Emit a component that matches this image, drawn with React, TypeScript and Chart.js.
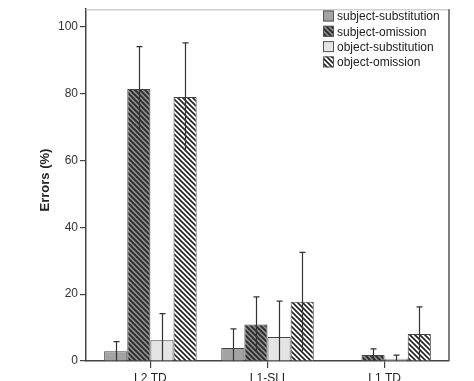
import React, { useEffect, useRef } from "react";
import { Chart, registerables } from "chart.js";

Chart.register(...registerables);

const categories = ["L2 TD", "L1-SLI", "L1 TD"];
const seriesNames = ["subject-substitution", "subject-omission", "object-substitution", "object-omission"];
const subjSub = [2.9, 3.9, 0];
const subjOm = [81.4, 10.9, 1.8];
const objSub = [6.2, 7.2, 0.7];
const objOm = [79.0, 17.7, 8.1];
const subjSubUpper = [5.8, 9.6, 0];
const subjOmUpper = [94.1, 19.2, 3.6];
const objSubUpper = [14.2, 17.9, 1.75];
const objOmUpper = [95.2, 32.5, 16.2];
const yTicks = [0, 20, 40, 60, 80, 100];

const FONT = "'Liberation Sans', Arial, sans-serif";

function hatch(bg: string, fg: string, size: number, lw: number) {
  const c = document.createElement("canvas");
  c.width = size;
  c.height = size;
  const g = c.getContext("2d")!;
  g.fillStyle = bg;
  g.fillRect(0, 0, size, size);
  g.strokeStyle = fg;
  g.lineWidth = lw;
  g.beginPath();
  for (let k = -1; k <= 1; k++) {
    g.moveTo(-1, k * size - 1);
    g.lineTo(size + 1, size + k * size + 1);
  }
  g.stroke();
  return g.createPattern(c, "repeat")!;
}

export default function App() {
  const ref = useRef<HTMLCanvasElement>(null);
  useEffect(() => {
    const canvas = ref.current!;
    const pSubjOm = hatch("#8c8c8c", "#2a2a2a", 5, 1.8);
    const pObjOm = hatch("#ffffff", "#222222", 5, 1.6);
    const fills: any[] = ["#a3a3a3", pSubjOm, "#e4e4e4", pObjOm];
    const values = [subjSub, subjOm, objSub, objOm];
    const uppers = [subjSubUpper, subjOmUpper, objSubUpper, objOmUpper];

    const errorBars = {
      id: "errorBars",
      afterDatasetsDraw(chart: any) {
        const ctx = chart.ctx;
        const ys = chart.scales.y;
        ctx.save();
        ctx.strokeStyle = "#333";
        ctx.lineWidth = 1.2;
        chart.data.datasets.forEach((ds: any, di: number) => {
          const meta = chart.getDatasetMeta(di);
          meta.data.forEach((bar: any, i: number) => {
            const m = values[di][i];
            const up = uppers[di][i];
            if (up <= m) return;
            const lo = Math.max(0, m - (up - m));
            const x = Math.round(bar.x) + 0.5;
            const yu = ys.getPixelForValue(up);
            const yl = ys.getPixelForValue(lo);
            ctx.beginPath();
            ctx.moveTo(x, yl);
            ctx.lineTo(x, yu);
            ctx.moveTo(x - 3, yu);
            ctx.lineTo(x + 3, yu);
            ctx.stroke();
          });
        });
        ctx.restore();
      },
    };

    const frame = {
      id: "frame",
      afterDraw(chart: any) {
        const { ctx, chartArea } = chart;
        ctx.save();
        ctx.strokeStyle = "#d0d0d0";
        ctx.lineWidth = 1.5;
        ctx.beginPath();
        ctx.moveTo(chartArea.left, chartArea.top + 0.5);
        ctx.lineTo(chartArea.right, chartArea.top + 0.5);
        ctx.stroke();
        ctx.strokeStyle = "#555";
        ctx.lineWidth = 1.5;
        ctx.beginPath();
        ctx.moveTo(chartArea.right, chartArea.top);
        ctx.lineTo(chartArea.right, chartArea.bottom);
        ctx.stroke();

        // y title
        ctx.fillStyle = "#222";
        ctx.font = `bold 13px ${FONT}`;
        ctx.textAlign = "center";
        ctx.textBaseline = "middle";
        ctx.translate(45, 180);
        ctx.rotate(-Math.PI / 2);
        ctx.fillText("Errors (%)", 0, 0);
        ctx.restore();

        // legend
        ctx.save();
        ctx.font = `12px ${FONT}`;
        ctx.textAlign = "left";
        ctx.textBaseline = "middle";
        seriesNames.forEach((name, i) => {
          const y = 10.5 + i * 15.3;
          ctx.fillStyle = fills[i];
          ctx.fillRect(323, y, 11, 11);
          ctx.strokeStyle = "#555";
          ctx.lineWidth = 1;
          ctx.strokeRect(323.5, y + 0.5, 10, 10);
          ctx.fillStyle = "#222";
          ctx.fillText(name, 337, y + 6.5);
        });
        ctx.restore();
      },
    };

    const chart = new Chart(canvas, {
      type: "bar",
      data: {
        datasets: seriesNames.map((name, di) => ({
          label: name,
          data: values[di].map((v, i) => ({ x: i, y: v })),
          backgroundColor: fills[di],
          borderColor: "#444",
          borderWidth: 1,
          barPercentage: 1,
          categoryPercentage: 0.79,
        })),
      },
      options: {
        responsive: false,
        animation: false,
        layout: { padding: { left: 0, right: 25, top: 1, bottom: 0 } },
        plugins: { legend: { display: false }, tooltip: { enabled: false } },
        scales: {
          x: {
            type: "linear",
            offset: false,
            min: -0.55,
            max: 2.55,
            afterFit: (s: any) => { s.height = 20; },
            afterBuildTicks: (s: any) => { s.ticks = categories.map((_, i) => ({ value: i })); },
            ticks: {
              padding: 3,
              color: "#222",
              font: { family: FONT, size: 12 },
              callback: (v: any) => categories[Math.round(Number(v))] ?? "",
            },
            grid: { display: true, offset: false, drawOnChartArea: false, drawTicks: true, tickLength: 7, color: "#444", lineWidth: 1.2 },
            border: { display: true, color: "#444", width: 1.5 },
          },
          y: {
            min: 0,
            max: 105.3,
            afterFit: (s: any) => { s.width = 86; },
            afterBuildTicks: (s: any) => { s.ticks = yTicks.map((v) => ({ value: v })); },
            ticks: {
              padding: 2,
              color: "#333",
              font: { family: FONT, size: 12 },
            },
            grid: { display: true, drawOnChartArea: false, drawTicks: true, tickLength: 6, color: "#444", lineWidth: 1.2 },
            border: { display: true, color: "#444", width: 1.5 },
          },
        },
      },
      plugins: [errorBars, frame],
    } as any);
    return () => chart.destroy();
  }, []);
  return (
    <div style={{ position: "fixed", left: 0, top: 0, width: 474, height: 381, background: "#fff" }}>
      <canvas ref={ref} width={474} height={381} />
    </div>
  );
}
